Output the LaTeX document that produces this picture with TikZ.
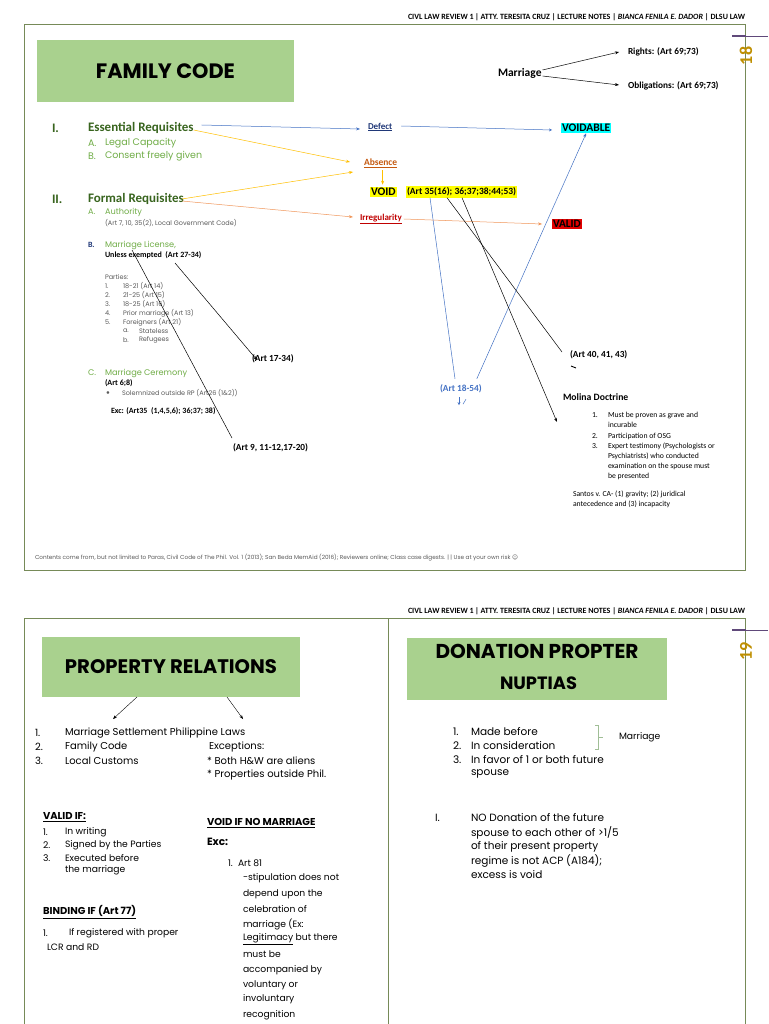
\documentclass[tikz,border=0pt]{standalone}
\usepackage{fontspec}
\setmainfont{Carlito}
\newfontfamily\pop{Poppins}
\newfontfamily\djv{DejaVu Sans}
\usetikzlibrary{arrows.meta}
\definecolor{pgb}{RGB}{118,138,88}
\definecolor{ttl}{RGB}{169,209,142}
\definecolor{dgreen}{RGB}{56,100,30}
\definecolor{lgreen}{RGB}{112,173,71}
\definecolor{greyt}{RGB}{90,90,90}
\definecolor{bluec}{RGB}{68,114,196}
\definecolor{dblue}{RGB}{32,56,120}
\definecolor{yell}{RGB}{255,192,0}
\definecolor{hlyel}{RGB}{255,255,0}
\definecolor{hlcyan}{RGB}{0,255,255}
\definecolor{orng}{RGB}{197,90,17}
\definecolor{orarr}{RGB}{240,150,90}
\definecolor{redt}{RGB}{192,0,0}
\definecolor{valred}{RGB}{225,0,0}
\definecolor{gold}{RGB}{191,143,0}
\definecolor{purp}{RGB}{96,73,122}
\definecolor{brk}{RGB}{160,190,150}
\newcommand\fsz[1]{\fontsize{#1}{\dimexpr #1pt*6/5\relax}\selectfont}
\tikzset{
  every node/.style={inner sep=0pt, outer sep=0pt, anchor=west},
  arr/.style={-{Stealth[length=4pt,width=3pt]}, line width=0.5pt},
  ln/.style={line width=0.5pt},
  pgbox/.style={draw=pgb, line width=0.8pt},
  ttlbox/.style={fill=ttl, anchor=center},
  hd/.style={font=\bfseries\fsz{13}, text=dgreen},
  sub/.style={font=\pop\fsz{9.5}, text=lgreen},
  subs/.style={font=\pop\fsz{8.2}, text=lgreen},
  gry/.style={font=\pop\fsz{6.5}, text=greyt},
  blk/.style={font=\bfseries\fsz{9.3}},
  blks/.style={font=\bfseries\fsz{8}},
  mol/.style={font=\fsz{7.7}},
  bodyA/.style={font=\pop\fsz{10}},
  bodyB/.style={font=\pop\fsz{9.2}},
  bodyC/.style={font=\pop\fsz{10.5}},
  bodyb/.style={font=\pop\bfseries\fsz{10}},
  hl/.style={inner xsep=1pt, inner ysep=1.5pt},
  pnum/.style={rotate=90, anchor=center, text=gold, font=\bfseries\fsz{18}},
}
\begin{document}
\begin{tikzpicture}[x=1pt,y=-1pt]
\useasboundingbox[fill=white] (0,0) rectangle (768,1024);

% ================= PAGE 18 =================
\draw[pgbox] (24,24) rectangle (745,570);
\node (hdr1) at (408,17) {\resizebox{337pt}{!}{\bfseries CIVL LAW REVIEW 1\,| ATTY. TERESITA CRUZ | LECTURE NOTES | \textit{BIANCA FENILA E. DADOR} | DLSU LAW}};
\draw[purp, line width=2.2pt] (732,36) -- (746,36);
\draw[purp, line width=0.6pt] (746,36) -- (768,36);
\node[pnum] (pn1) at (746,56) {18};

\node[ttlbox, minimum width=257pt, minimum height=62pt] (fc) at (165.5,71) {\resizebox{139pt}{!}{\pop\bfseries FAMILY CODE}};

\node[hd] (n1) at (52,128) {I.};
\node[hd] (ess) at (88,128) {Essential Requisites};
\node[sub] (ea) at (88,143) {A.};
\node[sub] (eat) at (105,143) {Legal Capacity};
\node[sub] (eb) at (88,156) {B.};
\node[sub] (ebt) at (105,156) {Consent freely given};

\node[hd] (n2) at (52,199) {II.};
\node[hd] (frm) at (88,199) {Formal Requisites};
\node[subs] (fa) at (88,212) {A.};
\node[subs] (fat) at (105,212) {Authority};
\node[gry] (fart) at (105,223) {(Art 7, 10, 35(2), Local Government Code)};
\node[font=\bfseries\fsz{8}, text=dblue] (fb) at (88,245) {B.};
\node[subs] (fbt) at (105,245) {Marriage License,};
\node[blks] (unl) at (105,255) {Unless exempted \ (Art 27-34)};
\node[gry] (par) at (105,277) {Parties:};
\node[gry] (p1) at (105,286) {1.}; \node[gry] (p1t) at (123,286) {18-21 (Art 14)};
\node[gry] (p2) at (105,295) {2.}; \node[gry] (p2t) at (123,295) {21-25 (Art 15)};
\node[gry] (p3) at (105,304) {3.}; \node[gry] (p3t) at (123,304) {18-25 (Art 16)};
\node[gry] (p4) at (105,313) {4.}; \node[gry] (p4t) at (123,313) {Prior marriage (Art 13)};
\node[gry] (p5) at (105,322) {5.}; \node[gry] (p5t) at (123,322) {Foreigners (Art 21)};
\node[gry] (pa) at (123,331) {a.}; \node[gry] (pat) at (139,331) {Stateless};
\node[gry] (pb) at (123,340) {b.}; \node[gry] (pbt) at (139,340) {Refugees};

\node[blk] (a1734) at (252,359) {(Art 17-34)};
\node[subs] (fc1) at (88,373) {C.};
\node[subs] (fct) at (105,373) {Marriage Ceremony};
\node[blks] (a68) at (105,383) {(Art 6;8)};
\node[gry] (bul) at (106,393) {$\bullet$};
\node[gry] (sol) at (122,393) {Solemnized outside RP (Art26 (1\&2))};
\node[blks] (exc) at (111,411) {Exc: (Art35 \ (1,4,5,6); 36;37; 38)};
\node[blk] (art9) at (233,448) {(Art 9, 11-12,17-20)};

\coordinate (l1s) at (132,250);
\coordinate (l1e) at (232,438);
\draw[ln] (l1s) -- (l1e);
\coordinate (l2s) at (175,263);
\draw[arr] (l2s) -- ([xshift=5pt,yshift=-1pt]a1734.west);

% right side
\node[font=\bfseries\fsz{11.5}] (mar) at (498,73) {Marriage};
\node[blk] (rights) at (628,52) {Rights: (Art 69;73)};
\node[blk] (oblig) at (628,86) {Obligations: (Art 69;73)};
\draw[arr] ([xshift=1pt,yshift=3pt]mar.east) -- ([xshift=-9pt]rights.west);
\draw[arr] ([xshift=1pt,yshift=-3pt]mar.east) -- ([xshift=-9pt,yshift=1pt]oblig.west);

\node[font=\bfseries\fsz{9}, text=dblue] (def) at (368,127) {\underline{Defect}};
\draw[arr, bluec] ([xshift=8pt,yshift=3pt]ess.east) -- ([xshift=-8pt,yshift=-2pt]def.west);
\node[hl, fill=hlcyan, font=\bfseries\fsz{11.5}] (vdb) at (561,128) {VOIDABLE};
\draw[bluec, line width=0.5pt, -{Stealth[length=3pt,width=3pt]}] ([xshift=9pt,yshift=1pt]def.east) -- ([xshift=-9pt,yshift=-2pt]vdb.west);

\node[font=\bfseries\fsz{9.5}, text=orng] (abs) at (364,163) {\underline{Absence}};
\draw[arr, yell] ([yshift=-2pt]ess.east) -- ([xshift=-14pt,yshift=1pt]abs.west);
\draw[arr, yell] ([xshift=-2pt]frm.east) -- ([xshift=-11pt,yshift=-9pt]abs.west);
\node[hl, fill=hlyel, font=\bfseries\fsz{11.5}] (void) at (370,192) {VOID};
\node[hl, fill=hlyel, font=\bfseries\fsz{9.5}] (artv) at (406,192) {(Art 35(16); 36;37;38;44;53)};
\draw[arr, yell] ([xshift=2pt,yshift=-3pt]abs.south) -- ([xshift=2pt,yshift=2pt]abs.south |- void.north);

\node[font=\bfseries\fsz{9}, text=redt] (irr) at (360,219) {\underline{Irregularity}};
\draw[arr, orarr] ([xshift=-2pt,yshift=-2pt]frm.east) -- ([xshift=-7pt,yshift=2pt]irr.west);
\node[hl, fill=valred, font=\bfseries\fsz{11.3}] (valid) at (552,224) {VALID};
\draw[arr, orarr] ([xshift=2pt]irr.east) -- ([xshift=-10pt]valid.west);

\node[font=\bfseries\fsz{9.3}, text=bluec] (a18) at (440,389) {(Art 18-54)};
\draw[ln, bluec] ([xshift=24pt]artv.south west) -- ([xshift=15pt,yshift=6pt]a18.north west);
\draw[arr, bluec] ([xshift=-5pt,yshift=6pt]a18.north east) -- (vdb.south);
\draw[bluec, line width=0.6pt, -{Stealth[length=3pt,width=3pt]}] ([xshift=19pt,yshift=-4pt]a18.south west) -- ([xshift=19pt,yshift=-12pt]a18.south west);
\draw[bluec, line width=0.5pt] ([xshift=23pt,yshift=-11pt]a18.south west) -- ([xshift=26pt,yshift=-6pt]a18.south west);

\node[blk] (a404) at (570,355) {(Art 40, 41, 43)};
\node[font=\bfseries\fsz{9.7}] (mol) at (563,397) {Molina Doctrine};
\draw[ln] ([xshift=41pt]artv.south west) -- ([xshift=-8pt,yshift=3pt]a404.west);
\draw[arr] ([xshift=56pt]artv.south west) -- ([xshift=-6pt,yshift=-25pt]mol.west);
\draw[line width=0.9pt] ([xshift=1pt,yshift=-11pt]a404.west) -- ([xshift=6pt,yshift=-13pt]a404.west);

\node[mol] (m1) at (592,415) {1.}; \node[mol] (m1t) at (608,415) {Must be proven as grave and};
\node[mol] (m1u) at (608,425) {incurable};
\node[mol] (m2) at (592,436) {2.}; \node[mol] (m2t) at (608,436) {Participation of OSG};
\node[mol] (m3) at (592,446) {3.}; \node[mol] (m3t) at (608,446) {Expert testimony (Psychologists or};
\node[mol] (m3u) at (608,456) {Psychiatrists) who conducted};
\node[mol] (m3v) at (608,466) {examination on the spouse must};
\node[mol] (m3w) at (608,476) {be presented};
\node[mol] (san1) at (573,494) {Santos v. CA- (1) gravity; (2) juridical};
\node[mol] (san2) at (573,504) {antecedence and (3) incapacity};

\node[text=greyt] (foot) at (35,558) {\resizebox{483pt}{!}{\pop Contents come from, but not limited to Paras, Civil Code of The Phil. Vol. 1 (2013); San Beda MemAid (2016); Reviewers online; Class case digests. | | Use at your own risk {\djv ☺}}};

% ================= PAGE 19 =================
\draw[pgbox] (24,1024) -- (24,618) -- (745,618) -- (745,1024);
\draw[pgbox] (388,618) -- (388,1024);
\node (hdr2) at (408,611) {\resizebox{337pt}{!}{\bfseries CIVL LAW REVIEW 1\,| ATTY. TERESITA CRUZ | LECTURE NOTES | \textit{BIANCA FENILA E. DADOR} | DLSU LAW}};
\draw[purp, line width=2.2pt] (732,630) -- (746,630);
\draw[purp, line width=0.6pt] (746,630) -- (768,630);
\node[pnum] (pn2) at (746,651) {19};

\node[ttlbox, minimum width=258pt, minimum height=60pt] (pr) at (171,667) {\resizebox{212pt}{!}{\pop\bfseries PROPERTY RELATIONS}};
\node[bodyA] (l1) at (35,733) {1.}; \node[bodyA] (l1t) at (65,733) {Marriage Settlement Philippine Laws};
\node[bodyA] (l2) at (35,747) {2.}; \node[bodyA] (l2t) at (65,747) {Family Code};
\node[bodyA] (l3) at (35,761) {3.}; \node[bodyA] (l3t) at (65,761) {Local Customs};
\node[bodyA] (ex) at (209,747) {Exceptions:};
\node[bodyA] (ex1) at (207,761) {* Both H\&W are aliens};
\node[bodyA] (ex2) at (207,775) {* Properties outside Phil.};
\draw[arr, line width=0.4pt] ([xshift=-34pt]pr.south) -- ([xshift=-58pt,yshift=-22pt]pr.south);
\draw[arr, line width=0.4pt] ([xshift=56pt]pr.south) -- ([xshift=72pt,yshift=-22pt]pr.south);

\node[bodyb] (vif) at (43,817) {\underline{VALID IF:}};
\node[bodyB] (v1) at (43,832) {1.}; \node[bodyB] (v1t) at (65,832) {In writing};
\node[bodyB] (v2) at (43,845) {2.}; \node[bodyB] (v2t) at (65,845) {Signed by the Parties};
\node[bodyB] (v3) at (43,858) {3.}; \node[bodyB] (v3t) at (65,858) {Executed before};
\node[bodyB] (v3u) at (65,870) {the marriage};
\node[bodyb] (bif) at (43,912) {\underline{BINDING IF (Art 77)}};
\node[bodyB] (b1) at (43,933) {1.}; \node[bodyB] (b1t) at (69,933) {If registered with proper};
\node[bodyB] (b1u) at (47,947) {LCR and RD};

\node[bodyb] (vnm) at (207,823) {\underline{VOID IF NO MARRIAGE}};
\node[font=\pop\bfseries\fsz{10.5}] (exc2) at (207,842) {Exc:};
\node[bodyB] (e1) at (228,863) {1.}; \node[bodyB] (e1t) at (238,863) {Art 81};
\node[bodyB] (e2) at (243,878) {-stipulation does not};
\node[bodyB] (e3) at (243,894) {depend upon the};
\node[bodyB] (e4) at (243,909) {celebration of};
\node[bodyB] (e5) at (243,924) {marriage (Ex:};
\node[bodyB] (e6) at (243,939) {\underline{Legitimacy} but there};
\node[bodyB] (e7) at (243,954) {must be};
\node[bodyB] (e8) at (243,970) {accompanied by};
\node[bodyB] (e9) at (243,985) {voluntary or};
\node[bodyB] (e10) at (243,999) {involuntary};
\node[bodyB] (e11) at (243,1015) {recognition};

\node[ttlbox, minimum width=260pt, minimum height=62pt] (dpn) at (537,669) {};
\node[anchor=center] (dpn1) at (537,651) {\resizebox{203pt}{!}{\pop\bfseries DONATION PROPTER}};
\node[anchor=center] (dpn2) at (538.5,683) {\resizebox{77pt}{!}{\pop\bfseries NUPTIAS}};
\node[bodyC] (d1) at (453,732) {1.}; \node[bodyC] (d1t) at (471,732) {Made before};
\node[bodyC] (d2) at (453,746) {2.}; \node[bodyC] (d2t) at (471,746) {In consideration};
\node[bodyC] (d3) at (453,760) {3.}; \node[bodyC] (d3t) at (471,760) {In favor of 1 or both future};
\node[bodyC] (d3u) at (471,774) {spouse};
\node[font=\pop\fsz{9.2}] (dmar) at (619,737) {Marriage};
\draw[brk, line width=0.9pt] (595,725) -- (598,725) -- (598,749) -- (595,749);
\draw[brk, line width=0.6pt] (598,737) -- ([xshift=-16pt]dmar.west);

\node[bodyC] (dI) at (435,818) {I.};
\node[bodyC] (dIa) at (471,818) {NO Donation of the future};
\node[bodyC] (dIb) at (471,833) {spouse to each other of >1/5};
\node[bodyC] (dIc) at (471,847) {of their present property};
\node[bodyC] (dId) at (471,861) {regime is not ACP (A184);};
\node[bodyC] (dIe) at (471,875) {excess is void};
\end{tikzpicture}
\end{document}
